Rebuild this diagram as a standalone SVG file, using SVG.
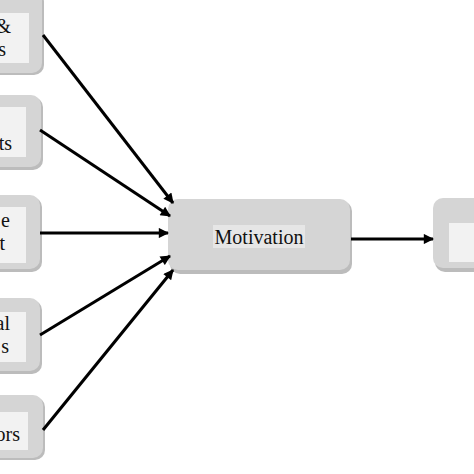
<svg xmlns="http://www.w3.org/2000/svg" width="474" height="474" viewBox="0 0 474 474">
<defs>
<style>
.sh{fill:#bcbcbc}
.box{fill:#d5d5d5}
.in{fill:#f2f2f2}
.t{font-size:20px;fill:#111}
.c{stroke:#000;stroke-width:3;fill:none;marker-end:url(#ah)}
</style>
<marker id="ah" viewBox="0 0 10 10" refX="9" refY="5" markerWidth="4" markerHeight="3.4" orient="auto" markerUnits="strokeWidth">
<path d="M0,0 L10,5 L0,10 z" fill="#000"/>
</marker>
</defs>
<rect width="474" height="474" fill="#fff"/>
<g font-family="'Liberation Serif', 'DejaVu Serif', serif">
<g id="n1">
<rect class="sh" x="-30" y="-8" width="74" height="83" rx="10"/>
<rect class="box" x="-30" y="-10" width="72" height="83" rx="10"/>
<rect class="in" x="-10" y="13" width="39" height="50"/>
<text class="t" x="11" y="33" text-anchor="end">&amp;</text>
<text class="t" x="6" y="56" text-anchor="end">s</text>
</g>
<g id="n2">
<rect class="sh" x="-30" y="97" width="73" height="73" rx="10"/>
<rect class="box" x="-30" y="95" width="71" height="72" rx="10"/>
<rect class="in" x="-10" y="107" width="36" height="50"/>
<text class="t" x="12" y="150" text-anchor="end">ts</text>
</g>
<g id="n3">
<rect class="sh" x="-30" y="197" width="72" height="75" rx="10"/>
<rect class="box" x="-30" y="195" width="70" height="74" rx="10"/>
<rect class="in" x="-10" y="207" width="36" height="56"/>
<text class="t" x="10" y="227" text-anchor="end">e</text>
<text class="t" x="5" y="250" text-anchor="end">t</text>
</g>
<g id="n4">
<rect class="sh" x="-30" y="300" width="72" height="74" rx="10"/>
<rect class="box" x="-30" y="298" width="70" height="73" rx="10"/>
<rect class="in" x="-10" y="312" width="36" height="50"/>
<text class="t" x="10" y="330" text-anchor="end">al</text>
<text class="t" x="9" y="353" text-anchor="end">s</text>
</g>
<g id="n5">
<rect class="sh" x="-30" y="397" width="75" height="63" rx="10"/>
<rect class="box" x="-30" y="395" width="73" height="63" rx="10"/>
<rect class="in" x="-10" y="412" width="38" height="38"/>
<text class="t" x="20" y="441" text-anchor="end">ors</text>
</g>
<g id="motivation">
<rect class="sh" x="170" y="201" width="182" height="73" rx="10"/>
<rect class="box" x="168" y="199" width="182" height="71" rx="10"/>
<rect x="213" y="225" width="92" height="23" fill="#e6e6e6"/>
<text class="t" x="259" y="244" text-anchor="middle">Motivation</text>
</g>
</g>
<g id="n7">
<rect class="sh" x="435" y="200" width="60" height="72" rx="10"/>
<rect class="box" x="433" y="198" width="60" height="70" rx="10"/>
<rect class="in" x="449" y="223" width="40" height="39"/>
</g>
<g id="connectors">
<line class="c" x1="43" y1="35" x2="173" y2="203"/>
<line class="c" x1="40" y1="130" x2="170" y2="216"/>
<line class="c" x1="40" y1="233" x2="168" y2="233"/>
<line class="c" x1="40" y1="335" x2="170" y2="256"/>
<line class="c" x1="43" y1="430" x2="173" y2="270"/>
<line class="c" x1="351" y1="239" x2="433" y2="239"/>
</g>
</svg>
